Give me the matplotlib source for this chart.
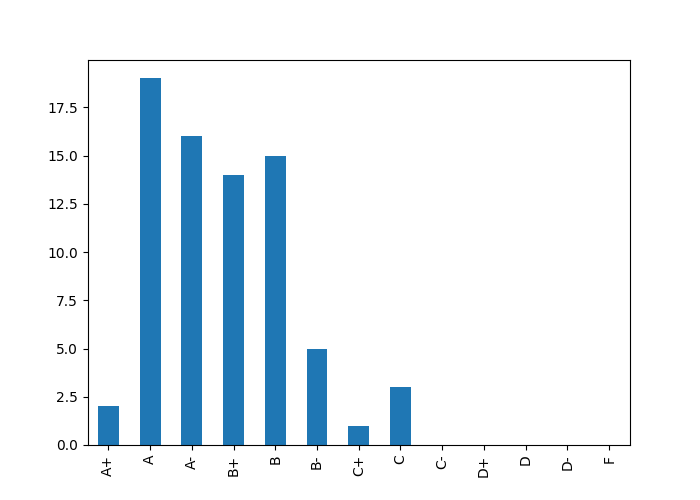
import matplotlib
matplotlib.use("Agg")
import matplotlib.pyplot as plt
import pandas as pd

grades = ["A+", "A", "A-", "B+", "B", "B-", "C+", "C", "C-", "D+", "D", "D-", "F"]
counts = [2, 19, 16, 14, 15, 5, 1, 3, 0, 0, 0, 0, 0]

s = pd.Series(counts, index=grades)

fig, ax = plt.subplots(figsize=(7, 5), dpi=100)
s.plot(kind="bar", ax=ax)

fig.savefig("out.png")
